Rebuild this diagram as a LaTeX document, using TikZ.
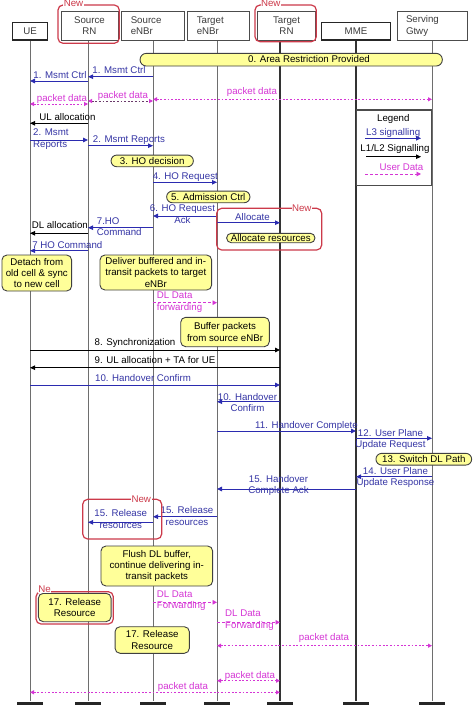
\documentclass[tikz,border=0pt]{standalone}
\usepackage{fontspec}
\setmainfont{Liberation Sans}
\usetikzlibrary{arrows.meta}
\definecolor{sigblue}{HTML}{2B2BB0}
\definecolor{txtblue}{HTML}{3535A5}
\definecolor{udata}{HTML}{D535D5}
\definecolor{udark}{HTML}{6A3A6A}
\definecolor{notefill}{HTML}{FFFF99}
\definecolor{newred}{HTML}{CC3A4A}
\definecolor{lifegray}{HTML}{6E6E6E}
\definecolor{hdrtext}{HTML}{3C3C3C}
\tikzset{
  fnt/.style={font=\fontsize{9.7}{11.4}\selectfont},
  lbl/.style={fnt, inner sep=0pt, text height=7pt, text depth=2pt},
  mlbl/.style={fnt, inner sep=0pt, align=center},
  blbl/.style={lbl, text=txtblue},
  bmlbl/.style={mlbl, text=txtblue},
  ulbl/.style={lbl, text=udata},
  umlbl/.style={mlbl, text=udata, align=left},
  life/.style={lifegray, line width=1pt},
  lifedark/.style={black!80, line width=1.2pt},
  endbar/.style={fill=black!85, inner sep=0pt, minimum width=26pt, minimum height=3pt},
  hdr/.style={draw=black!70, fill=white, line width=0.9pt, fnt, text=hdrtext, inner sep=0pt, minimum height=28.3pt, align=center},
  sig/.style={sigblue, line width=0.9pt, -{Triangle[length=5pt,width=4.5pt]}},
  phy/.style={black, line width=0.9pt, -{Triangle[length=5pt,width=4.5pt]}},
  ud/.style={udata, line width=0.9pt, dash pattern=on 1.8pt off 1.8pt, {Triangle[length=4pt,width=4pt,color=udata]}-{Triangle[length=4pt,width=4pt,color=udata]}},
  fwd/.style={udata, line width=0.9pt, dash pattern=on 3pt off 2pt, -{Triangle[length=4.5pt,width=4.5pt]}},
  note/.style={draw=black!75, fill=notefill, line width=0.9pt, rounded corners=5pt, fnt, inner sep=0pt, align=center},
  newbox/.style={draw=newred, line width=1.2pt, rounded corners=5pt},
  newlbl/.style={fnt, text=newred, fill=white, inner xsep=0.5pt, inner ysep=0pt, text height=7pt, text depth=1pt},
}
\begin{document}
\begin{tikzpicture}[x=1pt,y=-1pt]
\useasboundingbox[fill=white] (0,0) rectangle (474,709);

% lifeline tops
\coordinate (ue) at (30,40);
\coordinate (srn) at (88,40);
\coordinate (senb) at (153,40);
\coordinate (tenb) at (217,40);
\coordinate (trn) at (280,40);
\coordinate (mme) at (356,40);
\coordinate (gw) at (432,40);

% end bars
\node[endbar] (bUE) at (30,703) {};
\node[endbar] (bSRN) at (88,703) {};
\node[endbar] (bSeNB) at (153,703) {};
\node[endbar] (bTeNB) at (217,703) {};
\node[endbar] (bTRN) at (280,703) {};
\node[endbar] (bMME) at (356,703) {};
\node[endbar] (bGW) at (432,703) {};

% lifelines
\draw[life] (ue) -- (bUE.north);
\draw[life] (srn) -- (bSRN.north);
\draw[life] (senb) -- (bSeNB.north);
\draw[life] (tenb) -- (bTeNB.north);
\draw[lifedark] (trn) -- (bTRN.north);
\draw[lifedark] (mme) -- (bMME.north);
\draw[life] (gw) -- (bGW.north);

% headers
\node[hdr, minimum width=34.6pt, minimum height=17.3pt, line width=1.2pt, draw=black!85] (hUE) at (30,31.3) {UE};
\node[hdr, minimum width=57pt] (hSRN) at (89.5,25.9) {Source\\RN};
\node[hdr, text width=44.3pt, inner xsep=9pt, align=left] (hSeNB) at (152.9,25.9) {Source\\eNBr};
\node[hdr, text width=42.9pt, inner xsep=9.4pt, align=left] (hTeNB) at (218.2,25.9) {Target\\eNBr};
\node[hdr, minimum width=58.4pt] (hTRN) at (286.5,25.9) {Target\\RN};
\node[hdr, minimum width=69.4pt, minimum height=17.3pt, line width=1.2pt, draw=black!85] (hMME) at (356,31.3) {MME};
\node[hdr, text width=52.6pt, inner xsep=8.7pt, align=left] (hGW) at (432.3,25.9) {Serving\\Gtwy};

% New boxes around headers
\draw[newbox] (58,5) rectangle (119.3,43.3);
\node[newlbl] (new1) at (73.5,3.5) {New};
\draw[newbox] (255,5) rectangle (316.3,41.7);
\node[newlbl] (new2) at (270.7,3.5) {New};

% 0. Area restriction
\node[note, minimum width=302.3pt, minimum height=12.7pt, rounded corners=6.3pt] (area) at (291.2,59.7) {};
\node[lbl] (areat) at (309,60) {0. Area Restriction Provided};

% 1. Msmt Ctrl
\draw[sig] (senb |- 0,76.7) -- (srn |- 0,76.7);
\node[blbl] (l1a) at (119,70.7) {1. Msmt Ctrl};
\draw[sig] (srn |- 0,81) -- (ue |- 0,81);
\node[blbl] (l1b) at (60,76) {1. Msmt Ctrl};

% packet data
\draw[ud] (ue |- 0,104) -- (srn |- 0,104);
\node[ulbl] (lp1) at (62,98.5) {packet data};
\draw[ud, draw=udark] (srn |- 0,101) -- (senb |- 0,101);
\node[ulbl] (lp2) at (123,95.7) {packet data};
\draw[ud] (senb |- 0,99.3) -- (gw |- 0,99.3);
\node[ulbl] (lp3) at (252,92) {packet data};

% UL allocation
\draw[phy] (srn |- 0,123.3) -- (ue |- 0,123.3);
\node[lbl] (lul) at (67.5,117.7) {UL allocation};

% 2. Msmt Reports
\draw[sig] (ue |- 0,140) -- (srn |- 0,140);
\node[bmlbl, align=left, anchor=west] (l2a) at (33,139.2) {2. Msmt\\Reports};
\draw[sig] (srn |- 0,145.7) -- (senb |- 0,145.7);
\node[blbl] (l2b) at (129,140) {2. Msmt Reports};

% 3. HO decision
\node[note, minimum width=82.3pt, minimum height=11.7pt, rounded corners=5.8pt] (n3) at (152.2,160.9) {3. HO decision};

% 4. HO Request
\draw[sig] (senb |- 0,182.3) -- (tenb |- 0,182.3);
\node[blbl] (l4) at (185.3,176.7) {4. HO Request};

% 5. Admission Ctrl
\node[note, minimum width=83.3pt, minimum height=11.7pt, rounded corners=5.8pt] (n5) at (208.3,196.9) {5. Admission Ctrl};

% 6. HO Request Ack
\draw[sig] (tenb |- 0,216) -- (senb |- 0,216);
\node[bmlbl] (l6) at (182.5,214.2) {6. HO Request\\Ack};

% Allocate
\draw[sig] (tenb |- 0,222.7) -- (trn |- 0,222.7);
\node[blbl] (lalloc) at (252.5,218.3) {Allocate};
\node[note, minimum width=88.3pt, minimum height=9.4pt, rounded corners=4.6pt] (nalloc) at (270.8,238) {Allocate resources};
\draw[newbox] (216.7,208.3) rectangle (321.7,250);
\node[newlbl] (new3) at (301.7,208.3) {New};

% 7. HO Command
\draw[sig] (senb |- 0,227.7) -- (srn |- 0,227.7);
\node[bmlbl, align=left, anchor=west] (l7a) at (96.7,226.7) {7.HO\\Command};
\draw[phy] (srn |- 0,233.3) -- (ue |- 0,233.3);
\node[lbl] (ldl) at (59.8,225.7) {DL allocation};
\draw[sig] (srn |- 0,250.7) -- (ue |- 0,250.7);
\node[blbl] (l7b) at (67.3,245.7) {7 HO Command};

% notes
\node[note, minimum width=69.7pt, minimum height=36pt] (ndetach) at (36.8,273) {Detach from\\old cell \& sync\\to new cell};
\node[note, minimum width=111.7pt, minimum height=35pt] (ndeliver) at (155.8,272.5) {Deliver buffered and in-\\transit packets to target\\eNBr};

% DL data forwarding
\draw[fwd] (senb |- 0,302.7) -- (tenb |- 0,302.7);
\node[umlbl, anchor=west] (lf1) at (156.7,302) {DL Data\\forwarding};

\node[note, minimum width=88.6pt, minimum height=29.4pt] (nbuffer) at (225,332) {Buffer packets\\from source eNBr};

% 8. Synchronization
\draw[phy] (ue |- 0,350) -- (trn |- 0,350);
\node[lbl] (l8) at (135,342.7) {8. Synchronization};

% 9.
\draw[phy] (trn |- 0,367.7) -- (ue |- 0,367.7);
\node[lbl] (l9) at (155,360.7) {9. UL allocation + TA for UE};

% 10.
\draw[sig] (ue |- 0,385) -- (trn |- 0,385);
\node[blbl] (l10a) at (143,379.3) {10. Handover Confirm};
\draw[sig] (trn |- 0,401.7) -- (tenb |- 0,401.7);
\node[bmlbl] (l10b) at (247.5,402.5) {10. Handover\\Confirm};

% 11.
\draw[sig] (tenb |- 0,431) -- (mme |- 0,431);
\node[blbl] (l11) at (306.5,425.7) {11. Handover Complete};

% 12.
\draw[sig] (mme |- 0,438.3) -- (gw |- 0,438.3);
\node[bmlbl] (l12) at (390.5,439.4) {12. User Plane\\Update Request};

% 13.
\node[note, minimum width=95.7pt, minimum height=11.7pt, rounded corners=5.8pt] (n13) at (423.8,459.2) {13. Switch DL Path};

% 14.
\draw[sig] (gw |- 0,476.7) -- (mme |- 0,476.7);
\node[bmlbl] (l14) at (395.5,477.5) {14. User Plane\\Update Response};

% 15.
\draw[sig] (mme |- 0,489) -- (tenb |- 0,489);
\node[bmlbl] (l15a) at (278.5,485.7) {15. Handover\\Complete Ack};
\draw[sig] (tenb |- 0,516.7) -- (senb |- 0,516.7);
\node[bmlbl] (l15b) at (187,515.9) {15. Release\\resources};
\draw[sig] (senb |- 0,522.3) -- (srn |- 0,522.3);
\node[bmlbl] (l15c) at (120.8,518.9) {15. Release\\resources};
\draw[newbox] (82.7,499.3) rectangle (161.7,539);
\node[newlbl] (new4) at (141.3,499.3) {New};

% Flush
\node[note, minimum width=111.7pt, minimum height=40pt] (nflush) at (156.8,566) {Flush DL buffer,\\continue delivering in-\\transit packets};

% 17. Release resource (RN)
\node[note, minimum width=72.7pt, minimum height=28.4pt] (n17a) at (74.7,607.5) {17. Release\\Resource};
\draw[newbox] (36,591.7) rectangle (113.3,624);
\node[newlbl] (new5) at (44.5,589.3) {Ne};

% DL Data Forwarding
\draw[fwd] (senb |- 0,602.3) -- (tenb |- 0,602.3);
\node[umlbl, anchor=west] (lf2) at (156.7,600.7) {DL Data\\Forwarding};
\draw[fwd] (tenb |- 0,622.3) -- (trn |- 0,622.3);
\node[umlbl, anchor=west] (lf3) at (225,620) {DL Data\\Forwarding};

\node[note, minimum width=74.3pt, minimum height=26.6pt] (n17b) at (152.2,640) {17. Release\\Resource};

% final packet data
\draw[ud] (tenb |- 0,645.7) -- (gw |- 0,645.7);
\node[ulbl] (lp4) at (324,638.3) {packet data};
\draw[ud] (tenb |- 0,680.7) -- (trn |- 0,680.7);
\node[ulbl] (lp5) at (250,675.7) {packet data};
\draw[ud] (ue |- 0,692.3) -- (trn |- 0,692.3);
\node[ulbl] (lp6) at (183,686.7) {packet data};

% Legend
\node[draw=black!70, line width=1.3pt, fill=white, minimum width=75pt, minimum height=75.7pt, inner sep=0pt] (legend) at (394.2,147.85) {};
\node[lbl] (lgT) at (393.3,119) {Legend};
\node[blbl] (lg1) at (393.2,133.3) {L3 signalling};
\coordinate (lg1a) at (365,138.3);
\coordinate (lg1b) at (421,138.3);
\draw[sig] (lg1a) -- (lg1b);
\node[lbl] (lg2) at (395,149.3) {L1/L2 Signalling};
\coordinate (lg2a) at (366,156.7);
\coordinate (lg2b) at (421,156.7);
\draw[phy] (lg2a) -- (lg2b);
\node[ulbl] (lg3) at (401.5,168.3) {User Data};
\coordinate (lg3a) at (365,174);
\coordinate (lg3b) at (421,174);
\draw[fwd] (lg3a) -- (lg3b);
\end{tikzpicture}
\end{document}
